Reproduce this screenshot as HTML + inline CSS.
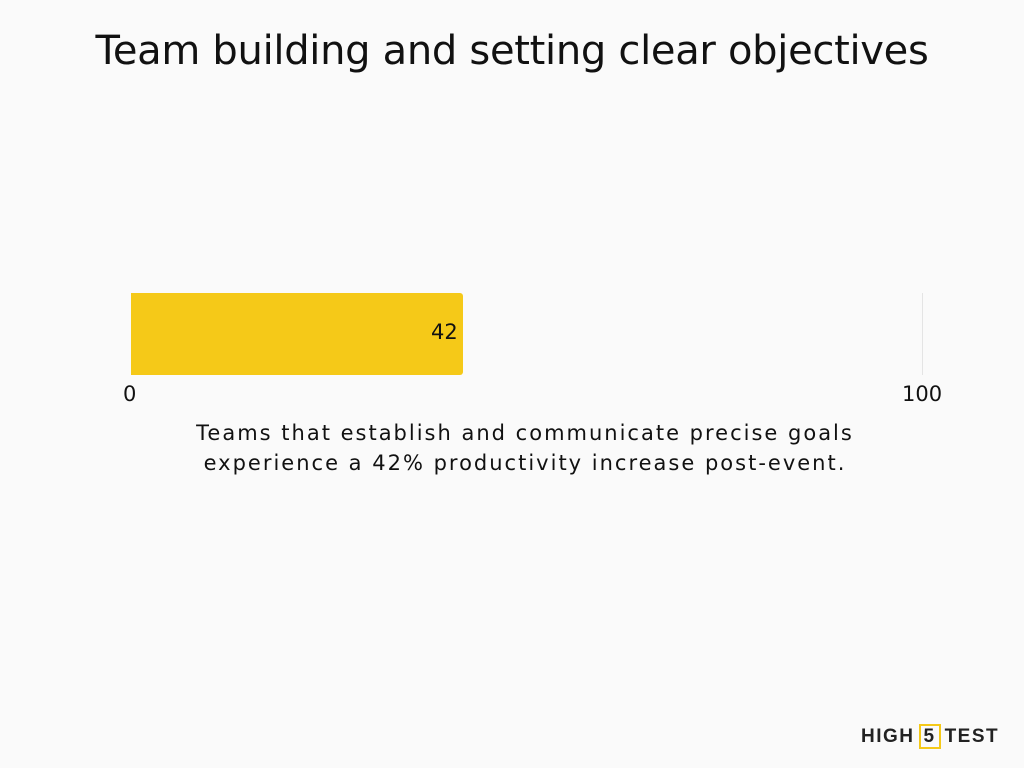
<!DOCTYPE html>
<html><head><style>
body{margin:0;width:1024px;height:768px;background:#fafafa;font-family:"DejaVu Sans",sans-serif;position:relative;overflow:hidden;color:#111}
.t{position:absolute;left:0;width:1024px;text-align:center;top:28px;font-size:40px;letter-spacing:-0.3px}
.bar{position:absolute;left:131px;top:293px;width:332px;height:82px;background:#f5c918;border-radius:0 3px 3px 0}
.grid{position:absolute;left:922px;top:293px;width:1px;height:82px;background:#e4e4e4}
.lab{position:absolute;font-size:21px}
.cap{position:absolute;left:0;width:1050px;text-align:center;top:418px;font-size:21px;line-height:30px;letter-spacing:2px}
.logo{position:absolute;left:861px;top:726px;font-family:"Liberation Sans",sans-serif;font-size:19px;font-weight:bold;letter-spacing:1.5px;color:#222}
.logo span{border:2px solid #f5c918;padding:0 3px;margin:0 4px}
</style></head><body>
<div class="t">Team building and setting clear objectives</div>
<div class="grid"></div>
<div class="bar"></div>
<div class="lab" style="left:431px;top:320px">42</div>
<div class="lab" style="left:123px;top:382px">0</div>
<div class="lab" style="left:902px;top:382px">100</div>
<div class="cap">Teams that establish and communicate precise goals<br>experience a 42% productivity increase post-event.</div>
<div class="logo">HIGH<span>5</span>TEST</div>
</body></html>
